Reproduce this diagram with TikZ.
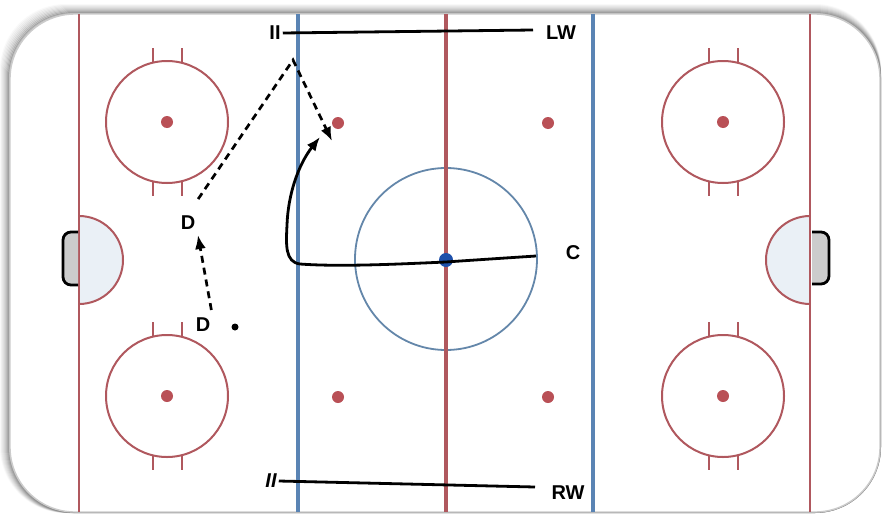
\documentclass[tikz,border=0pt]{standalone}
\usepackage{fontspec}
\setmainfont{Liberation Sans}
\usetikzlibrary{arrows.meta}
\definecolor{rinkred}{RGB}{176,88,94}
\definecolor{rinkblue}{RGB}{90,132,180}
\definecolor{ccblue}{RGB}{100,135,170}
\definecolor{cdot}{RGB}{30,80,170}
\definecolor{dotred}{RGB}{185,80,86}
\definecolor{creasefill}{RGB}{234,240,246}
\begin{document}
\begin{tikzpicture}[x=1pt,y=-1pt,
  redline/.style={draw=rinkred,line width=2pt},
  bigred/.style={draw=rinkred,line width=3.5pt},
  blueline/.style={draw=rinkblue,line width=3.5pt},
  reddot/.style={circle,fill=dotred,inner sep=0pt,minimum size=12pt},
  netshape/.style={fill=gray!40,draw=black,line width=2.8pt,rounded corners=8pt},
  lbl/.style={font=\fontsize{20}{23}\selectfont\bfseries,inner sep=2pt},
  skate/.style={draw=black,line width=2.8pt},
  pass/.style={draw=black,line width=2.7pt,dash pattern=on 7pt off 5pt},
  tip/.style={-{Latex[length=14pt,width=11pt]}},
  puck/.style={circle,fill=black,inner sep=0pt,minimum size=7pt}]
\useasboundingbox (0,0) rectangle (886,525);
% shadow
\foreach \k/\op in {9/0.05,8/0.08,7/0.11,6/0.15,5/0.2,4/0.26,3/0.34,2/0.44,1/0.55}
  \draw[gray,opacity=\op,line width=2pt,rounded corners=65pt] (10-\k,14-\k) rectangle (880,512);
\fill[white,rounded corners=65pt] (10,14) rectangle (880,512);
\draw[gray!40,line width=1.4pt,rounded corners=65pt] (10,14) rectangle (880,512);
% creases
\begin{scope}
  \clip (79,150) rectangle (200,370);
  \filldraw[fill=creasefill,redline] (79,260) circle[radius=44pt];
\end{scope}
\begin{scope}
  \clip (700,150) rectangle (810,370);
  \filldraw[fill=creasefill,redline] (810,260) circle[radius=44pt];
\end{scope}
% faceoff circles
\foreach \cx/\cy in {167/122,167/396,723/122,723/396}{
  \draw[redline] (\cx,\cy) circle[radius=61pt];
  \draw[redline] (\cx-14.5,\cy-59.3) -- (\cx-14.5,\cy-74);
  \draw[redline] (\cx+14.5,\cy-59.3) -- (\cx+14.5,\cy-74);
  \draw[redline] (\cx-14.5,\cy+59.3) -- (\cx-14.5,\cy+74);
  \draw[redline] (\cx+14.5,\cy+59.3) -- (\cx+14.5,\cy+74);
  \node[reddot] at (\cx,\cy) {};
}
% center circle
\draw[ccblue,line width=1.8pt] (446,259) circle[radius=91pt];
% lines
\draw[redline] (79,14) -- (79,512);
\draw[redline] (810,14) -- (810,512);
\draw[blueline] (298,14) -- (298,512);
\draw[blueline] (593,14) -- (593,512);
\draw[bigred] (446,14) -- (446,512);
% neutral zone dots
\foreach \px/\py in {338/123,548/123,338/397,548/397}
  \node[reddot] at (\px,\py) {};
\node[circle,fill=cdot,inner sep=0pt,minimum size=14pt] (cd) at (446,260) {};
% nets
\filldraw[netshape] (78,232) -- (63,232) -- (63,285) -- (78,285);
\filldraw[netshape] (812,232) -- (829,232) -- (829,284) -- (812,284);
% players
\node[lbl] (LW) at (561,33) {LW};
\node[lbl] (RW) at (568,493) {RW};
\node[lbl] (C) at (573,253) {C};
\node[lbl] (D1) at (188,223) {D};
\node[lbl] (D2) at (203,325) {D};
\node[lbl] (T1) at (275,33) {II};
\node[lbl,font=\fontsize{20}{23}\selectfont\bfseries\itshape] (T2) at (271,481) {II};
\node[puck] (P) at (235,327) {};
\coordinate (LWend) at (533,30);
\coordinate (RWend) at (535,487);
\coordinate (Cstart) at (536,256);
\coordinate (turn) at (293,60);
\coordinate (passend) at (332,141);
% skating lines
\draw[skate] (T1.east) -- (LWend);
\draw[skate] (T2.east) -- (RWend);
\draw[skate,tip] (Cstart) .. controls (490,259) and (460,261) .. (446,262)
  .. controls (400,264) and (340,267) .. (300,264)
  .. controls (285,262) and (286,245) .. (287,225)
  .. controls (288,195) and (298,165) .. (320,137);
% passes
\draw[pass,tip,shorten <=18pt] (D1.north) -- (turn) -- (passend);
\draw[pass,tip,shorten <=6pt,shorten >=3pt] (D2.north east) -- (D1.south east);
\end{tikzpicture}
\end{document}
